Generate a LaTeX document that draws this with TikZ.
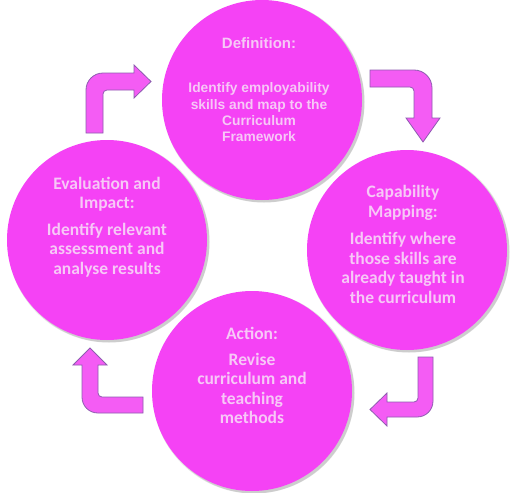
\documentclass[tikz,border=0pt]{standalone}
\usepackage{fontspec}
\setmainfont{Carlito}
\newfontfamily\arialb{Liberation Sans}
\definecolor{circfill}{HTML}{F542F5}
\definecolor{txtcol}{HTML}{F7C8F7}
\definecolor{arrfill}{HTML}{F45CF4}
\definecolor{arrline}{HTML}{8E5CB0}
\tikzset{
  circ/.style={circle, fill=circfill, minimum size=200pt, inner sep=0pt},
  shade1/.style={circle, fill=black, opacity=0.10, minimum size=202pt, inner sep=0pt},
  shade2/.style={circle, fill=black, opacity=0.10, minimum size=200pt, inner sep=0pt},
  headtxt/.style={text=txtcol, font=\fontsize{17.5}{19.5}\selectfont\bfseries, align=center, inner sep=0pt},
  bodytxt/.style={text=txtcol, font=\fontsize{17.5}{19.5}\selectfont\bfseries, align=center, inner sep=0pt},
  topheadtxt/.style={text=txtcol, font=\arialb\fontsize{15}{17}\selectfont\bfseries, align=center, inner sep=0pt},
  topbodytxt/.style={text=txtcol, font=\arialb\fontsize{13.8}{16.3}\selectfont\bfseries, align=center, inner sep=0pt},
  bentarrow/.style={fill=arrfill, draw=arrline, line width=0.8pt, line join=miter}
}
\begin{document}
\begin{tikzpicture}[x=1pt,y=-1pt]
\useasboundingbox (0,0) rectangle (512,493);
\fill[white] (0,0) rectangle (512,493);
% shadows
\foreach \cx/\cy in {262/100, 407/250, 252/391, 107/240}{
  \node[shade1] at (\cx+1.5,\cy+1.5) {};
  \node[shade2] at (\cx+2.5,\cy+2.5) {};
}
% circles
\node[circ] (def) at (262,100) {};
\node[circ] (cap) at (407,250) {};
\node[circ] (act) at (252,391) {};
\node[circ] (eva) at (107,240) {};
% texts
\node[topheadtxt] (defh) at (259,43) {Definition:};
\node[topbodytxt] (defb) at (259,112.5) {Identify employability\\skills and map to the\\Curriculum\\Framework};
\node[headtxt] (caph) at (403,203) {Capability\\Mapping:};
\node[bodytxt] (capb) at (403,268) {Identify where\\those skills are\\already taught in\\the curriculum};
\node[headtxt] (acth) at (252,333) {Action:};
\node[bodytxt] (actb) at (252,388.5) {Revise\\curriculum and\\teaching\\methods};
\node[headtxt] (evah) at (107,194) {Evaluation and\\Impact:};
\node[bodytxt] (evab) at (107,250) {Identify relevant\\assessment and\\analyse results};
% bent arrows
% top-left (up then right)
\draw[bentarrow] (86,133) -- (86,90) .. controls (86,80.6) and (93.6,73) .. (103,73)
  -- (134,73) -- (134,65) -- (151,81.5) -- (134,98) -- (134,90) -- (107,90)
  .. controls (104.8,90) and (103,91.8) .. (103,94) -- (103,133) -- cycle;
% top-right (right then down)
\draw[bentarrow] (370,70) -- (414,70) .. controls (424,70) and (432,78) .. (432,88)
  -- (432,118) -- (440,118) -- (423,142) -- (406,118) -- (414,118) -- (414,91)
  .. controls (414,88.8) and (412.2,87) .. (410,87) -- (370,87) -- cycle;
% bottom-right (down then left)
\draw[bentarrow] (418,357) -- (433,357) -- (433,401) .. controls (433,410) and (426,417) .. (417,417)
  -- (387,417) -- (387,426) -- (370,409.5) -- (387,393) -- (387,402) -- (414,402)
  .. controls (416.2,402) and (418,400.2) .. (418,398) -- cycle;
% bottom-left (left then up)
\draw[bentarrow] (143,397) -- (143,413) -- (98,413) .. controls (89,413) and (82,406) .. (82,397)
  -- (82,365) -- (73,365) -- (90,348) -- (107,365) -- (98,365) -- (98,393)
  .. controls (98,395.2) and (99.8,397) .. (102,397) -- cycle;
\end{tikzpicture}
\end{document}
